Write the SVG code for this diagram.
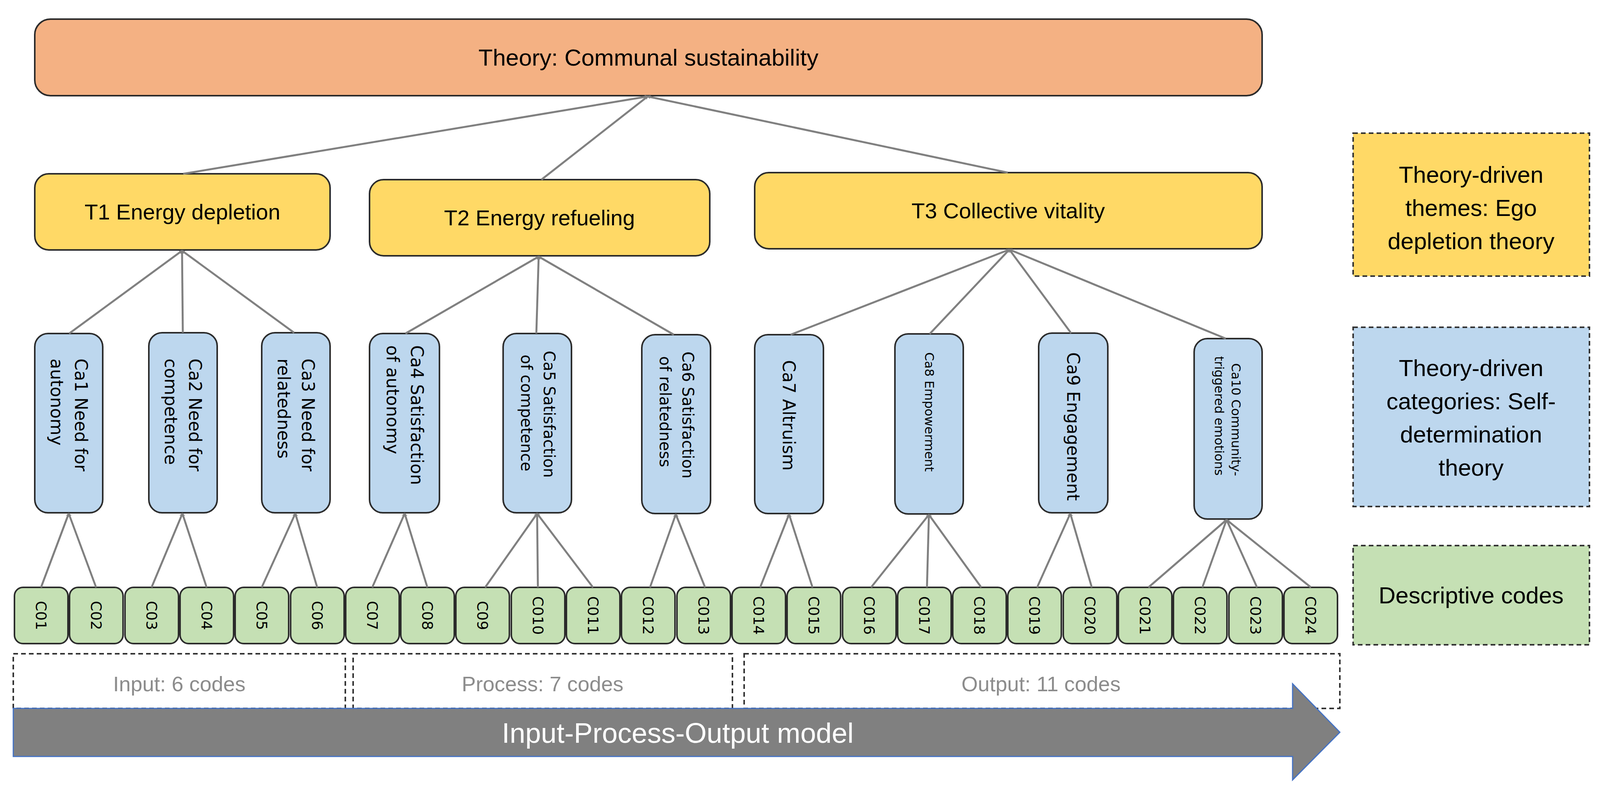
<svg xmlns="http://www.w3.org/2000/svg" width="4122" height="2028" viewBox="0 0 4122 2028">
<style>
.n{stroke:#2b2b2b;stroke-width:4}
.th{fill:#f4b183}.tm{fill:#ffd966}.ca{fill:#bdd7ee}.co{fill:#c5e0b4}
.lg{stroke:#333;stroke-width:4;stroke-dasharray:12 8}
.t{font-family:"Liberation Sans",Arial,sans-serif;fill:#000;text-anchor:middle}
.v{font-family:"DejaVu Sans",Verdana,sans-serif;fill:#000}
.c{stroke:#808080;stroke-width:5;fill:none;marker-end:url(#a)}
</style>
<defs>
<marker id="a" viewBox="0 0 20 20" refX="18" refY="10" markerWidth="7" markerHeight="7" markerUnits="userSpaceOnUse" orient="auto" style="overflow:visible">
<path d="M-2 -2 L20 10 L-2 22" fill="none" stroke="#808080" stroke-width="4"/>
</marker>
</defs>
<rect width="4122" height="2028" fill="#fff"/>
<g id="theory"><rect class="n th" x="89" y="49" width="3142" height="196" rx="40"/><text class="t" x="1660" y="168" font-size="60">Theory: Communal sustainability</text></g>
<g id="T1"><rect class="n tm" x="89" y="445" width="756" height="195" rx="36"/><text class="t" x="467" y="562" font-size="56">T1 Energy depletion</text></g>
<g id="T2"><rect class="n tm" x="946" y="460" width="871" height="195" rx="36"/><text class="t" x="1381" y="577" font-size="56">T2 Energy refueling</text></g>
<g id="T3"><rect class="n tm" x="1932" y="442" width="1299" height="195" rx="36"/><text class="t" x="2581" y="559" font-size="56">T3 Collective vitality</text></g>
<g id="Ca1"><rect class="n ca" x="89" y="854" width="174" height="459" rx="34"/><text class="v" font-size="44" transform="translate(192,918) rotate(90)">Ca1 Need for</text><text class="v" font-size="44" transform="translate(130,918) rotate(90)">autonomy</text></g>
<g id="Ca2"><rect class="n ca" x="381" y="852" width="175" height="461" rx="34"/><text class="v" font-size="44" transform="translate(484,918) rotate(90)">Ca2 Need for</text><text class="v" font-size="44" transform="translate(422,918) rotate(90)">competence</text></g>
<g id="Ca3"><rect class="n ca" x="670" y="852" width="175" height="461" rx="34"/><text class="v" font-size="44" transform="translate(773,918) rotate(90)">Ca3 Need for</text><text class="v" font-size="44" transform="translate(711,918) rotate(90)">relatedness</text></g>
<g id="Ca4"><rect class="n ca" x="946" y="854" width="179" height="459" rx="34"/><text class="v" font-size="44" transform="translate(1052,884) rotate(90)">Ca4 Satisfaction</text><text class="v" font-size="44" transform="translate(990,884) rotate(90)">of autonomy</text></g>
<g id="Ca5"><rect class="n ca" x="1288" y="854" width="175" height="459" rx="34"/><text class="v" font-size="40" transform="translate(1392,898) rotate(90)">Ca5  Satisfaction</text><text class="v" font-size="40" transform="translate(1334,908) rotate(90)">of competence</text></g>
<g id="Ca6"><rect class="n ca" x="1643" y="857" width="176" height="458" rx="34"/><text class="v" font-size="40" transform="translate(1747,900) rotate(90)">Ca6  Satisfaction</text><text class="v" font-size="40" transform="translate(1689,912) rotate(90)">of relatedness</text></g>
<g id="Ca7"><rect class="n ca" x="1932" y="857" width="176" height="458" rx="34"/><text class="v" font-size="44" transform="translate(2004,922) rotate(90)">Ca7 Altruism</text></g>
<g id="Ca8"><rect class="n ca" x="2291" y="855" width="175" height="461" rx="34"/><text class="v" font-size="32" transform="translate(2368,902) rotate(90)">Ca8 Empowerment</text></g>
<g id="Ca9"><rect class="n ca" x="2659" y="853" width="177" height="460" rx="34"/><text class="v" font-size="44" transform="translate(2732,902) rotate(90)">Ca9 Engagement</text></g>
<g id="Ca10"><rect class="n ca" x="3057" y="867" width="174" height="462" rx="34"/><text class="v" font-size="32" transform="translate(3153,930) rotate(90)">Ca10 Community-</text><text class="v" font-size="32" transform="translate(3110,912) rotate(90)">triggered emotions</text></g>
<g id="codes">
<g id="C01"><rect class="n co" x="37" y="1504" width="137" height="144" rx="22"/><text class="v" font-size="38" transform="translate(92,1576) rotate(90)" text-anchor="middle">C01</text></g>
<g id="C02"><rect class="n co" x="178" y="1504" width="137" height="144" rx="22"/><text class="v" font-size="38" transform="translate(233,1576) rotate(90)" text-anchor="middle">C02</text></g>
<g id="C03"><rect class="n co" x="320" y="1504" width="137" height="144" rx="22"/><text class="v" font-size="38" transform="translate(375,1576) rotate(90)" text-anchor="middle">C03</text></g>
<g id="C04"><rect class="n co" x="461" y="1504" width="137" height="144" rx="22"/><text class="v" font-size="38" transform="translate(516,1576) rotate(90)" text-anchor="middle">C04</text></g>
<g id="C05"><rect class="n co" x="602" y="1504" width="137" height="144" rx="22"/><text class="v" font-size="38" transform="translate(657,1576) rotate(90)" text-anchor="middle">C05</text></g>
<g id="C06"><rect class="n co" x="744" y="1504" width="137" height="144" rx="22"/><text class="v" font-size="38" transform="translate(799,1576) rotate(90)" text-anchor="middle">C06</text></g>
<g id="C07"><rect class="n co" x="885" y="1504" width="137" height="144" rx="22"/><text class="v" font-size="38" transform="translate(940,1576) rotate(90)" text-anchor="middle">C07</text></g>
<g id="C08"><rect class="n co" x="1026" y="1504" width="137" height="144" rx="22"/><text class="v" font-size="38" transform="translate(1081,1576) rotate(90)" text-anchor="middle">C08</text></g>
<g id="C09"><rect class="n co" x="1167" y="1504" width="137" height="144" rx="22"/><text class="v" font-size="38" transform="translate(1222,1576) rotate(90)" text-anchor="middle">C09</text></g>
<g id="C010"><rect class="n co" x="1309" y="1504" width="137" height="144" rx="22"/><text class="v" font-size="38" transform="translate(1364,1576) rotate(90)" text-anchor="middle">C010</text></g>
<g id="C011"><rect class="n co" x="1450" y="1504" width="137" height="144" rx="22"/><text class="v" font-size="38" transform="translate(1505,1576) rotate(90)" text-anchor="middle">C011</text></g>
<g id="C012"><rect class="n co" x="1591" y="1504" width="137" height="144" rx="22"/><text class="v" font-size="38" transform="translate(1646,1576) rotate(90)" text-anchor="middle">C012</text></g>
<g id="C013"><rect class="n co" x="1733" y="1504" width="137" height="144" rx="22"/><text class="v" font-size="38" transform="translate(1788,1576) rotate(90)" text-anchor="middle">C013</text></g>
<g id="C014"><rect class="n co" x="1874" y="1504" width="137" height="144" rx="22"/><text class="v" font-size="38" transform="translate(1929,1576) rotate(90)" text-anchor="middle">C014</text></g>
<g id="C015"><rect class="n co" x="2015" y="1504" width="137" height="144" rx="22"/><text class="v" font-size="38" transform="translate(2070,1576) rotate(90)" text-anchor="middle">C015</text></g>
<g id="C016"><rect class="n co" x="2157" y="1504" width="137" height="144" rx="22"/><text class="v" font-size="38" transform="translate(2212,1576) rotate(90)" text-anchor="middle">C016</text></g>
<g id="C017"><rect class="n co" x="2298" y="1504" width="137" height="144" rx="22"/><text class="v" font-size="38" transform="translate(2353,1576) rotate(90)" text-anchor="middle">C017</text></g>
<g id="C018"><rect class="n co" x="2439" y="1504" width="137" height="144" rx="22"/><text class="v" font-size="38" transform="translate(2494,1576) rotate(90)" text-anchor="middle">C018</text></g>
<g id="C019"><rect class="n co" x="2580" y="1504" width="137" height="144" rx="22"/><text class="v" font-size="38" transform="translate(2635,1576) rotate(90)" text-anchor="middle">C019</text></g>
<g id="C020"><rect class="n co" x="2722" y="1504" width="137" height="144" rx="22"/><text class="v" font-size="38" transform="translate(2777,1576) rotate(90)" text-anchor="middle">C020</text></g>
<g id="C021"><rect class="n co" x="2863" y="1504" width="137" height="144" rx="22"/><text class="v" font-size="38" transform="translate(2918,1576) rotate(90)" text-anchor="middle">C021</text></g>
<g id="C022"><rect class="n co" x="3004" y="1504" width="137" height="144" rx="22"/><text class="v" font-size="38" transform="translate(3059,1576) rotate(90)" text-anchor="middle">C022</text></g>
<g id="C023"><rect class="n co" x="3146" y="1504" width="137" height="144" rx="22"/><text class="v" font-size="38" transform="translate(3201,1576) rotate(90)" text-anchor="middle">C023</text></g>
<g id="C024"><rect class="n co" x="3287" y="1504" width="137" height="144" rx="22"/><text class="v" font-size="38" transform="translate(3342,1576) rotate(90)" text-anchor="middle">C024</text></g>
</g>
<g id="connectors">
<line class="c" x1="469" y1="445" x2="1658" y2="247"/>
<line class="c" x1="1386" y1="460" x2="1658" y2="247"/>
<line class="c" x1="2580" y1="442" x2="1658" y2="247"/>
<line class="c" x1="177" y1="854" x2="466" y2="642"/>
<line class="c" x1="468" y1="852" x2="466" y2="642"/>
<line class="c" x1="753" y1="852" x2="466" y2="642"/>
<line class="c" x1="1038" y1="854" x2="1379" y2="657"/>
<line class="c" x1="1373" y1="854" x2="1379" y2="657"/>
<line class="c" x1="1725" y1="857" x2="1379" y2="657"/>
<line class="c" x1="2024" y1="857" x2="2584" y2="639"/>
<line class="c" x1="2380" y1="855" x2="2584" y2="639"/>
<line class="c" x1="2742" y1="853" x2="2584" y2="639"/>
<line class="c" x1="3138" y1="867" x2="2584" y2="639"/>
<line class="c" x1="105" y1="1504" x2="176" y2="1315"/>
<line class="c" x1="246" y1="1504" x2="176" y2="1315"/>
<line class="c" x1="388" y1="1504" x2="467" y2="1315"/>
<line class="c" x1="529" y1="1504" x2="467" y2="1315"/>
<line class="c" x1="670" y1="1504" x2="756" y2="1315"/>
<line class="c" x1="812" y1="1504" x2="756" y2="1315"/>
<line class="c" x1="953" y1="1504" x2="1036" y2="1315"/>
<line class="c" x1="1094" y1="1504" x2="1036" y2="1315"/>
<line class="c" x1="1242" y1="1504" x2="1375" y2="1315"/>
<line class="c" x1="1377" y1="1504" x2="1375" y2="1315"/>
<line class="c" x1="1518" y1="1504" x2="1375" y2="1315"/>
<line class="c" x1="1664" y1="1504" x2="1730" y2="1317"/>
<line class="c" x1="1805" y1="1504" x2="1730" y2="1317"/>
<line class="c" x1="1946" y1="1504" x2="2020" y2="1317"/>
<line class="c" x1="2080" y1="1504" x2="2020" y2="1317"/>
<line class="c" x1="2230" y1="1504" x2="2378" y2="1318"/>
<line class="c" x1="2373" y1="1504" x2="2378" y2="1318"/>
<line class="c" x1="2512" y1="1504" x2="2378" y2="1318"/>
<line class="c" x1="2655" y1="1504" x2="2740" y2="1315"/>
<line class="c" x1="2795" y1="1504" x2="2740" y2="1315"/>
<line class="c" x1="2940" y1="1504" x2="3140" y2="1331"/>
<line class="c" x1="3078" y1="1504" x2="3140" y2="1331"/>
<line class="c" x1="3218" y1="1504" x2="3140" y2="1331"/>
<line class="c" x1="3356" y1="1504" x2="3140" y2="1331"/>
</g>
<g id="phases">
<rect x="34" y="1674" width="850" height="140" fill="none" class="lg" stroke-width="3"/>
<text class="t" x="459" y="1770" font-size="54" style="fill:#8c8c8c">Input: 6 codes</text>
<rect x="904" y="1674" width="971" height="140" fill="none" class="lg" stroke-width="3"/>
<text class="t" x="1389" y="1770" font-size="54" style="fill:#8c8c8c">Process: 7 codes</text>
<rect x="1905" y="1674" width="1525" height="140" fill="none" class="lg" stroke-width="3"/>
<text class="t" x="2665" y="1770" font-size="54" style="fill:#8c8c8c">Output: 11 codes</text>
</g>
<g id="ipo">
<path d="M34 1814 H3309 V1751 L3430 1875 L3309 1997 V1937 H34 Z" fill="#808080" stroke="#4472c4" stroke-width="3"/>
<text class="t" x="1735" y="1902" font-size="72" style="fill:#fff">Input-Process-Output model</text>
</g>
<g id="legend-themes"><rect class="lg tm" x="3464" y="341" width="605" height="366"/>
<text class="t" x="3766" y="468" font-size="60">Theory-driven</text><text class="t" x="3766" y="553" font-size="60">themes: Ego</text><text class="t" x="3766" y="638" font-size="60">depletion theory</text></g>
<g id="legend-categories"><rect class="lg ca" x="3464" y="838" width="605" height="459"/>
<text class="t" x="3766" y="963" font-size="60">Theory-driven</text><text class="t" x="3766" y="1048" font-size="60">categories: Self-</text><text class="t" x="3766" y="1133" font-size="60">determination</text><text class="t" x="3766" y="1218" font-size="60">theory</text></g>
<g id="legend-codes"><rect class="lg co" x="3464" y="1397" width="605" height="254"/>
<text class="t" x="3766" y="1545" font-size="60">Descriptive codes</text></g>
</svg>
